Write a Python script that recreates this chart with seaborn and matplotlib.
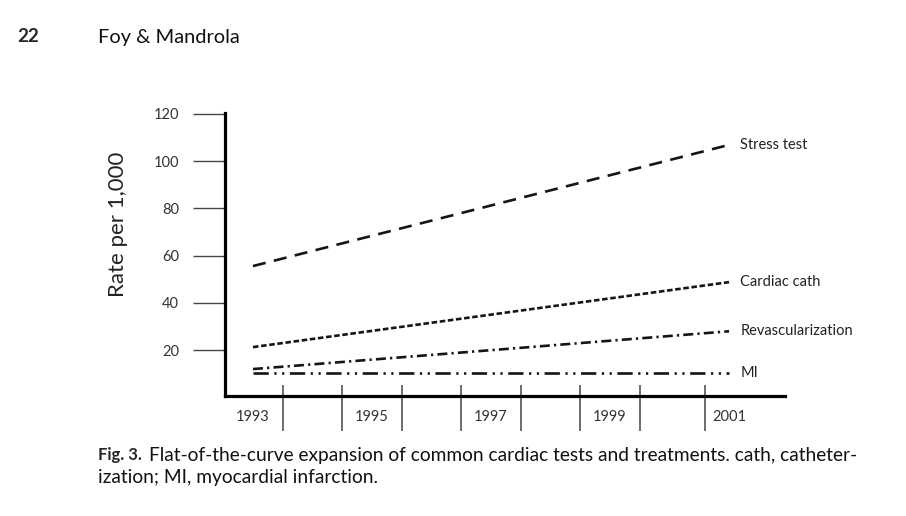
import matplotlib
matplotlib.use("Agg")
import matplotlib.pyplot as plt
import pandas as pd
import seaborn as sns

# Data
years = [1993, 2001]
stress_test = [55.6, 106.9]
cardiac_cath = [21.3, 48.8]
revascularization = [12.0, 28.0]
mi = [10.3, 10.3]

series_names = ["Stress test", "Cardiac cath", "Revascularization", "MI"]
year_labels = [1993, 1995, 1997, 1999, 2001]
y_ticks = [20, 40, 60, 80, 100, 120]
x_marks = [1993.5, 1994.5, 1995.5, 1996.5, 1997.5, 1998.5, 1999.5, 2000.6]

df = pd.DataFrame({
    "year": years * 4,
    "rate": stress_test + cardiac_cath + revascularization + mi,
    "series": [n for n in series_names for _ in years],
})

sns.set_theme(style="white")
plt.rcParams["font.family"] = ["Lato", "DejaVu Sans"]
plt.rcParams["lines.scale_dashes"] = False

W, H = 906, 516
fig = plt.figure(figsize=(W / 100, H / 100), dpi=100)
ax = fig.add_axes([225 / W, 1 - 396 / H, (785 - 225) / W, (396 - 113) / H])

# dash patterns in points
patterns = {
    "Stress test": (0, (9.4, 6.1)),
    "Cardiac cath": (0, (4.0, 1.9)),
    "Revascularization": (0, (7.2, 3.0, 1.6, 3.0)),
    "MI": (0, (11.0, 4.0, 1.6, 4.0, 1.6, 4.0)),
}

for name in series_names:
    sub = df[df["series"] == name]
    sns.lineplot(data=sub, x="year", y="rate", ax=ax, color="#151515",
                 linewidth=1.9, linestyle=patterns[name], legend=False)
    last = sub.iloc[-1]
    ax.annotate(name, xy=(last["year"], last["rate"]), xytext=(8, 0),
                textcoords="offset points", va="center", ha="left",
                fontsize=10.5, color="#222222")

ax.set_xlim(1992.53, 2001.94)
ax.set_ylim(0.6, 120.4)

# axes frame: only left and bottom, heavy
for side in ["top", "right"]:
    ax.spines[side].set_visible(False)
for side in ["left", "bottom"]:
    ax.spines[side].set_linewidth(2.3)
    ax.spines[side].set_color("#000000")

ax.set_yticks(y_ticks)
ax.set_yticklabels([str(v) for v in y_ticks])
ax.tick_params(axis="y", direction="out", length=23, width=1.0, color="#444444",
               pad=10, labelsize=10.5, labelcolor="#333333", left=True)

ax.set_xticks(year_labels)
ax.set_xticklabels([str(v) for v in year_labels])
ax.tick_params(axis="x", length=0, pad=10, labelsize=10.5, labelcolor="#333333")

# vertical marks crossing the x axis
ax.vlines(x_marks, -0.124, 0.039, transform=ax.get_xaxis_transform(),
          colors="#444444", linewidth=1.1, clip_on=False)

ax.set_xlabel("")
ax.set_ylabel("")
fig.text(118 / W, 1 - 224 / H, "Rate per 1,000", rotation=90, fontsize=16,
         color="#222222", va="center", ha="center")

# page header and caption
fig.text(17 / W, 1 - 37 / H, "22", fontsize=13.5, fontweight="bold", va="center", ha="left")
fig.text(98 / W, 1 - 37 / H, "Foy & Mandrola", fontsize=14.4, va="center", ha="left",
         color="#111111")
fig.text(98 / W, 1 - 455 / H, "Fig. 3.", fontsize=12, fontweight="bold", va="center",
         ha="left")
fig.text(149 / W, 1 - 455 / H,
         "Flat-of-the-curve expansion of common cardiac tests and treatments. cath, catheter-",
         fontsize=13.8, va="center", ha="left", color="#111111")
fig.text(98 / W, 1 - 478 / H, "ization; MI, myocardial infarction.", fontsize=13.8,
         va="center", ha="left", color="#111111")

fig.savefig("out.png", dpi=100)
